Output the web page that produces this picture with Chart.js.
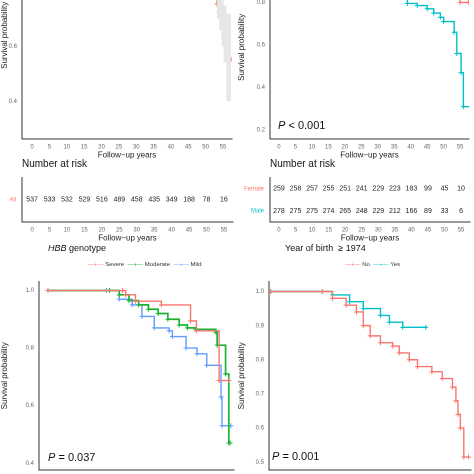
<!DOCTYPE html>
<html><head><meta charset="utf-8">
<script src="https://cdn.jsdelivr.net/npm/chart.js@4"></script>
<style>
body{margin:0;width:474px;height:474px;overflow:hidden;background:#fff;font-family:'Liberation Sans',Arial,sans-serif;position:relative}
canvas{position:absolute}
.t{position:absolute;white-space:nowrap;color:#111}
</style></head><body>
<script>
// ---- data ----
const yearTicks=[0,5,10,15,20,25,30,35,40,45,50,55];
const riskAll=[537,533,532,529,516,489,458,435,349,188,78,16];
const riskFemale=[259,258,257,255,251,241,229,223,183,99,45,10];
const riskMale=[278,275,275,274,265,248,229,212,166,89,33,6];
const allT=[0,10,20,25,30,35,40,45,50,53.3,53.9,54.6,55.2,56,57.3];
const allS=[1,1,0.99,0.97,0.95,0.93,0.9,0.86,0.8,0.755,0.725,0.688,0.646,0.553,0.553];
const allLo=[1,1,0.98,0.96,0.93,0.91,0.88,0.83,0.77,0.7,0.66,0.6,0.54,0.4,0.385];
const allHi=[1,1,1,0.99,0.97,0.95,0.93,0.9,0.86,0.83,0.8,0.78,0.75,0.72,0.72];
const maleT=[0,15,20,25,30,35,39,42,45,47,49,50,53.2,54,55.3,56,57.9];
const maleS=[1,1,0.99,0.97,0.93,0.87,0.795,0.785,0.77,0.75,0.73,0.71,0.66,0.56,0.47,0.31,0.31];
const femT=[0,20,30,40,50,55,57.5];
const femS=[1,0.99,0.96,0.92,0.86,0.8,0.8];
const sevT=[0,23,24,27,35,44,45.8,52.8,55.8];
const sevS=[1,1,0.985,0.963,0.95,0.894,0.86,0.687,0.687];
const modT=[0,19,22,25,28,31,34,37,40.5,43,45.7,51.8,52.2,54.8,55.8,56.2];
const modS=[1,1,0.985,0.965,0.95,0.935,0.92,0.9,0.88,0.87,0.865,0.855,0.81,0.71,0.47,0.47];
const mildT=[0,18,22,26,29,32.8,37.4,38.4,42.6,46,49,53.4,53.7,56.4];
const mildS=[1,1,0.97,0.95,0.91,0.87,0.86,0.84,0.80,0.78,0.74,0.63,0.53,0.53];
const noT=[0,15,18,22,25,27,29,32,35.6,37.5,40.4,42.8,47,50,53,54,54.6,55.3,56.3,57.7];
const noS=[1,1,0.98,0.96,0.94,0.90,0.87,0.85,0.84,0.82,0.80,0.78,0.765,0.745,0.72,0.68,0.64,0.60,0.515,0.515];
const yesT=[0,15,18,23,27,32,34.6,38.5,45.2];
const yesS=[1,1,0.99,0.97,0.95,0.93,0.91,0.895,0.895];

const RED='#F8766D',TEAL='#00BFC4',GREEN='#1DB233',BLUE='#619CFF';
const F="'Liberation Sans',Arial,sans-serif";
const pts=(t,s)=>t.map((x,i)=>({x,y:s[i]}));

function place(L,T,W,H,leftW,botH,padT){
  const d=document.createElement('div');
  d.style.cssText='position:absolute;left:'+(L-leftW)+'px;top:'+(T-padT)+'px';
  const c=document.createElement('canvas');
  c.style.cssText='position:static;width:'+(W+leftW+4)+'px;height:'+(H+botH+padT)+'px';
  d.appendChild(c);document.body.appendChild(d);return c;
}
function axisX(min,max,botH,title){
  return {type:'linear',min,max,grid:{display:false,drawTicks:true,tickLength:3,color:'#333'},
    border:{color:'#333',width:1},
    afterBuildTicks:s=>{s.ticks=yearTicks.map(v=>({value:v}));},
    afterFit:s=>{s.height=botH;},
    ticks:{color:'#666',font:{size:6,family:F},padding:1,maxRotation:0,autoSkip:false},
    title:{display:!!title,text:title,color:'#222',font:{size:8,family:F},padding:{top:0,bottom:0}}};
}
function axisY(min,max,leftW,tickVals,title){
  return {type:'linear',min,max,grid:{display:false,tickLength:3,color:'#333'},border:{color:'#333',width:1},
    afterBuildTicks:s=>{s.ticks=tickVals.map(v=>({value:v}));},
    afterFit:s=>{s.width=leftW;},
    ticks:{color:'#666',font:{size:6,family:F},padding:2,callback:v=>v.toFixed(1)},
    title:{display:true,text:title,color:'#222',font:{size:8,family:F},padding:0}};
}
function line(data,color,w){return {data,borderColor:color,backgroundColor:color,stepped:true,borderWidth:w||1.4,
  pointStyle:'cross',pointRadius:2.5,pointBorderWidth:1,fill:false};}

function km(L,T,W,H,leftW,botH,padT,xmin,xmax,ymin,ymax,yt,datasets){
  const c=place(L,T,W,H,leftW,botH,padT);
  new Chart(c,{type:'line',data:{datasets},options:{animation:false,responsive:false,
    devicePixelRatio:2,layout:{padding:{top:padT,right:4}},
    plugins:{legend:{display:false},tooltip:{enabled:false}},
    scales:{x:axisX(xmin,xmax,botH,'Follow\u2212up years'),y:axisY(ymin,ymax,leftW,yt,'Survival probability')}}});
}
function risk(L,T,W,H,leftW,labels,colors,rows){
  const c=place(L,T,W,H,leftW,21,2);
  const ds=rows.map((r,i)=>({data:yearTicks.map((x,j)=>({x,y:labels[i],v:r[j]})),pointRadius:0,showLine:false}));
  new Chart(c,{type:'line',data:{labels,datasets:ds},plugins:[{id:'nums',afterDatasetsDraw(ch){
      const ctx=ch.ctx;ctx.save();ctx.font='7px '+F;ctx.fillStyle='#222';ctx.textAlign='center';ctx.textBaseline='middle';
      ch.data.datasets.forEach((d,i)=>{const m=ch.getDatasetMeta(i);m.data.forEach((p,j)=>ctx.fillText(d.data[j].v,p.x,p.y));});
      ctx.restore();}}],
    options:{animation:false,responsive:false,devicePixelRatio:2,layout:{padding:{top:2,right:4}},
    plugins:{legend:{display:false},tooltip:{enabled:false}},
    scales:{x:axisX(L===22?-2.9:-2.7,L===22?57.6:57.7,21,'Follow\u2212up years'),
      y:{type:'category',labels,offset:true,grid:{display:false,tickLength:3,color:'#333'},border:{color:'#333'},
        afterFit:s=>{s.width=leftW;},ticks:{font:{size:6,family:F},color:c2=>colors[c2.index]}}}}});
}

// top-left
km(22,-70,211,209,22,21,4,-2.9,57.6,0.262,1.02,[0.4,0.6,0.8,1.0],[
  {data:pts(allT,allLo),borderWidth:0,pointRadius:0,stepped:true,fill:'+1',backgroundColor:'#e6e6e6'},
  {data:pts(allT,allHi),borderWidth:0,pointRadius:0,stepped:true,fill:false},
  line(pts(allT,allS),RED)]);
// top-right
km(270,-46,200,185,33,21,4,-2.7,57.7,0.158,1.02,[0.2,0.4,0.6,0.8,1.0],[
  line(pts(femT,femS),RED),line(pts(maleT,maleS),TEAL)]);
// bottom-left
km(39,280,196,190,39,21,4,-2.76,57.4,0.376,1.031,[0.4,0.6,0.8,1.0],[
  line(pts(sevT,sevS),RED),line(pts(modT,modS),GREEN,1.7),line(pts(mildT,mildS),BLUE)]);
// bottom-right
km(269,280,203,190,32,21,4,-0.5,58.4,0.477,1.029,[0.5,0.6,0.7,0.8,0.9,1.0],[
  line(pts(noT,noS),RED),line(pts(yesT,yesS),TEAL)]);
// risk tables
risk(22,173,211,49,22,['All'],[RED],[riskAll]);
risk(270,173,200,49,33,['Female','Male'],[RED,TEAL],[riskFemale,riskMale]);
</script>
<div class="t" style="left:22px;top:158px;font-size:10px">Number at risk</div>
<div class="t" style="left:270px;top:158px;font-size:10px">Number at risk</div>
<div class="t" style="left:278px;top:119px;font-size:11px"><i>P</i> &lt; 0.001</div>
<div class="t" style="left:48px;top:451px;font-size:11px"><i>P</i> = 0.037</div>
<div class="t" style="left:272px;top:450px;font-size:11px"><i>P</i> = 0.001</div>
<div class="t" style="left:48px;top:243px;font-size:9px"><i>HBB</i> genotype</div>
<div class="t" style="left:285px;top:243px;font-size:9px">Year of birth &nbsp;≥ 1974</div>
<div class="t" style="left:88px;top:261px;font-size:6px;color:#333">
<span style="color:#F8766D">—+—</span> Severe &nbsp;<span style="color:#1DB233">—+—</span> Moderate &nbsp;<span style="color:#619CFF">—+—</span> Mild</div>
<div class="t" style="left:345px;top:261px;font-size:6px;color:#333">
<span style="color:#F8766D">—+—</span> No &nbsp;<span style="color:#00BFC4">—+—</span> Yes</div>
</body></html>
